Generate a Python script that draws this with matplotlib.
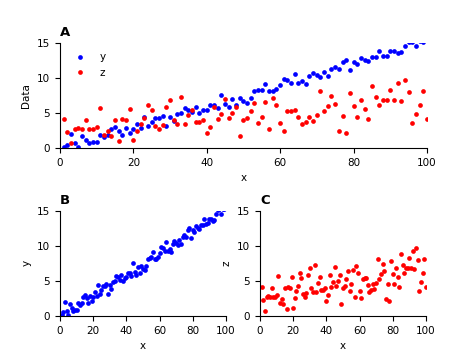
import matplotlib
matplotlib.use("Agg")
import matplotlib.pyplot as plt
import numpy as np

plt.rcParams['font.size'] = 7.5

x = np.arange(1, 101)

y = [0.1, 0.5, 2.0, 0.75, 0.1, 1.65, 1.2, 0.65, 0.85, 0.85,
     1.9, 1.55, 1.8, 2.65, 3.0, 2.5, 1.85, 2.85, 2.1, 2.75,
     3.4, 2.8, 4.4, 3.2, 3.7, 4.3, 4.3, 4.55, 3.2, 4.45,
     3.9, 4.8, 5.05, 5.7, 5.5, 5.1, 5.9, 5.0, 5.4, 5.5,
     6.1, 6.2, 5.7, 7.6, 6.3, 5.8, 7.0, 6.1, 7.2, 6.7,
     6.5, 7.1, 8.2, 8.3, 8.35, 9.2, 8.1, 8.2, 8.4, 9.0,
     9.8, 9.7, 9.3, 10.5, 9.3, 9.5, 9.1, 10.3, 10.7, 10.4,
     10.1, 10.9, 10.25, 11.3, 11.5, 11.25, 12.25, 12.6, 11.1, 12.3,
     12.05, 12.8, 12.5, 12.4, 12.95, 12.95, 13.9, 13.1, 13.2, 13.85,
     13.85, 13.5, 13.7, 14.5, 15.1, 15.2, 14.5, 15.3, 15.2, 15.8]

z = [4.1, 2.3, 0.67, 2.7, 2.85, 2.75, 4.0, 2.7, 2.75, 3.05,
     5.7, 1.8, 2.4, 1.7, 4.0, 0.95, 4.1, 4.0, 5.6, 1.1,
     2.5, 3.5, 4.3, 6.2, 5.4, 3.2, 2.65, 3.3, 5.9, 6.9,
     4.0, 3.4, 7.3, 3.45, 4.65, 5.5, 3.75, 3.7, 3.95, 2.2,
     3.0, 5.85, 4.1, 4.85, 7.0, 4.3, 5.0, 5.9, 1.65, 3.95,
     4.3, 5.25, 6.45, 3.6, 4.5, 6.55, 2.7, 7.15, 6.2, 3.6,
     2.5, 5.25, 5.35, 5.45, 4.4, 3.45, 3.75, 4.5, 3.85, 4.65,
     8.2, 5.25, 6.0, 7.45, 6.35, 2.4, 4.6, 2.15, 7.8, 6.0,
     4.5, 6.9, 5.6, 4.2, 8.8, 7.25, 6.1, 6.9, 6.85, 8.3,
     6.9, 9.25, 6.7, 9.7, 8.0, 3.6, 4.9, 6.1, 8.2, 4.1]

fig = plt.figure(figsize=(4.74, 3.55), dpi=100)
axA = fig.add_axes([0.1266, 0.583, 0.774, 0.296])
axB = fig.add_axes([0.1266, 0.110, 0.350, 0.296])
axC = fig.add_axes([0.5485, 0.110, 0.350, 0.296])

ms = 3.4
axA.plot(x, y, 'o', color='b', ms=ms, mew=0, label='y')
axA.plot(x, z, 'o', color='r', ms=ms, mew=0, label='z')
axA.set_ylabel('Data')
axA.legend(loc='upper left', frameon=False, bbox_to_anchor=(0.0, 1.0),
           handletextpad=0.9)

axB.plot(x, y, 'o', color='b', ms=ms, mew=0)
axB.set_ylabel('y')

axC.plot(x, z, 'o', color='r', ms=ms, mew=0)
axC.set_ylabel('z')

for ax, letter in zip([axA, axB, axC], ['A', 'B', 'C']):
    ax.set_xlim(0, 100)
    ax.set_ylim(0, 15)
    ax.set_xticks([0, 20, 40, 60, 80, 100])
    ax.set_yticks([0, 5, 10, 15])
    ax.set_xlabel('x')
    ax.spines['top'].set_visible(False)
    ax.spines['right'].set_visible(False)
    ax.text(0.0, 1.04, letter, transform=ax.transAxes, fontsize=9.5,
            fontweight='bold', va='bottom', ha='left')

fig.savefig('out.png', dpi=100)
